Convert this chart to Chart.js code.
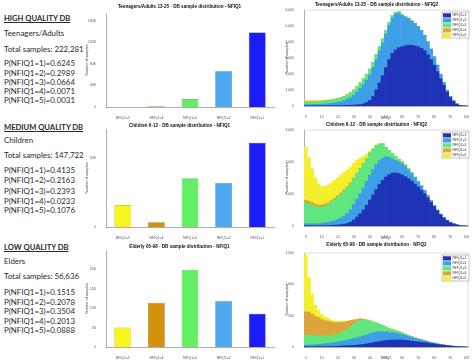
<!DOCTYPE html>
<html>
<head>
<meta charset="utf-8">
<script src="https://cdn.jsdelivr.net/npm/chart.js@4.4.0/dist/chart.umd.min.js"></script>
<style>
body { margin: 0; background: #fff; width: 474px; height: 361px; overflow: hidden; position: relative; font-family: Lato, "Open Sans", sans-serif; color: #2a2a2a; }
canvas { position: absolute; }
.t { position: absolute; left: 4px; font-size: 7.9px; line-height: 10px; white-space: nowrap; }
.h { font-weight: bold; text-decoration: underline; font-size: 7.6px; }
</style>
</head>
<body>
<div id="panel"></div>
<canvas id="bar1" width="200" height="120" style="left:85px;top:0px"></canvas>
<canvas id="bar2" width="200" height="120" style="left:85px;top:120px"></canvas>
<canvas id="bar3" width="200" height="120" style="left:85px;top:240px"></canvas>
<canvas id="hist1" width="189" height="120" style="left:285px;top:0px"></canvas>
<canvas id="hist2" width="189" height="120" style="left:285px;top:120px"></canvas>
<canvas id="hist3" width="189" height="120" style="left:285px;top:240px"></canvas>
<script>
// text panels
const dbNames = ["HIGH QUALITY DB", "MEDIUM QUALITY DB", "LOW QUALITY DB"]
const groups = ["Teenagers/Adults", "Children", "Elders"]
const totals = ["222,281", "147,722", "56,636"]
const teenProbs = ["0.6245", "0.2989", "0.0664", "0.0071", "0.0031"]
const childProbs = ["0.4135", "0.2163", "0.2393", "0.0233", "0.1076"]
const elderProbs = ["0.1515", "0.2078", "0.3504", "0.2013", "0.0888"]

// NFIQ1 bar charts
const barCategories = ["NFIQ1=5", "NFIQ1=4", "NFIQ1=3", "NFIQ1=2", "NFIQ1=1"]
const teenBars = [689, 1578, 14759, 66440, 138814]
const childBars = [15895, 3442, 35350, 31952, 61083]
const elderBars = [5029, 11401, 19845, 11769, 8580]
const teenBarTicks = [0, 40000, 80000, 120000, 160000]
const childBarTicks = [0, 50000]
const elderBarTicks = [0, 5000, 10000, 15000, 20000]

// NFIQ2 histograms (stacked by NFIQ1 class)
const nfiq2Bins = [0,2,4,6,8,10,12,14,16,18,20,22,24,26,28,30,32,34,36,38,40,42,44,46,48,50,52,54,56,58,60,62,64,66,68,70,72,74,76,78,80,82,84,86,88,90,92,94,96,98,100]
const legendLabels = ["NFIQ1=1", "NFIQ1=2", "NFIQ1=3", "NFIQ1=4", "NFIQ1=5"]

const teenQ1 = [10,10,10,10,12,12,14,16,18,20,24,28,32,38,45,55,70,90,130,220,350,600,1000,1450,1900,2400,2900,3300,3500,3650,3700,3750,3800,3800,3750,3700,3600,3450,3200,2900,2550,2150,1700,1300,870,530,290,115,38,10,0]
const teenQ2 = [80,80,85,90,95,100,110,125,145,170,200,240,300,380,480,620,800,1000,1200,1400,1600,1800,1900,2000,2050,2100,2150,2200,2250,2150,1950,1800,1650,1500,1400,1250,1100,950,800,650,520,400,280,180,110,60,30,12,4,1,0]
const teenQ3 = [150,150,155,160,165,175,185,195,205,215,230,245,260,280,300,320,340,350,360,360,350,330,300,270,240,200,170,140,110,90,70,55,45,35,28,22,16,12,9,6,4,3,2,1,1,0,0,0,0,0,0]
const teenQ4 = [30,30,30,28,26,25,22,20,18,16,14,12,10,8,6,5,4,3,3,2,2,2,1,1,1,1,0,0,0,0,0,0,0,0,0,0,0,0,0,0,0,0,0,0,0,0,0,0,0,0,0]
const teenQ5 = [80,70,60,55,50,45,40,35,30,26,22,18,15,12,10,8,6,5,4,3,3,2,2,1,1,1,1,0,0,0,0,0,0,0,0,0,0,0,0,0,0,0,0,0,0,0,0,0,0,0,0]

const childQ1 = [10,10,10,10,10,12,14,16,20,25,30,40,55,80,120,190,280,380,500,650,810,970,1140,1300,1430,1530,1600,1650,1660,1640,1590,1540,1470,1400,1310,1220,1120,1010,880,740,600,470,350,250,170,110,65,35,15,5,0]
const childQ2 = [60,60,60,60,65,70,80,95,115,140,170,210,260,320,390,480,560,630,690,740,780,790,780,740,690,630,540,450,390,360,350,320,280,240,200,160,130,100,75,55,40,28,18,12,7,4,2,1,0,0,0]
const childQ3 = [650,620,580,540,510,500,520,550,600,650,700,740,780,800,810,810,800,780,750,720,690,640,590,520,450,300,220,160,120,90,70,50,35,25,18,12,8,5,3,2,1,1,0,0,0,0,0,0,0,0,0]
const childQ4 = [90,90,85,80,75,70,65,60,55,50,45,40,35,30,25,20,15,12,10,8,5,4,3,2,2,1,1,0,0,0,0,0,0,0,0,0,0,0,0,0,0,0,0,0,0,0,0,0,0,0,0]
const childQ5 = [1650,1350,1050,820,660,580,560,560,560,560,560,560,550,530,500,460,400,320,230,130,60,30,15,8,5,3,2,1,1,0,0,0,0,0,0,0,0,0,0,0,0,0,0,0,0,0,0,0,0,0,0]

const elderQ1 = [5,5,5,5,6,6,7,8,9,10,12,14,16,19,22,26,30,36,42,50,58,68,78,88,96,104,108,110,112,112,110,106,100,94,88,82,76,70,62,55,48,40,33,27,21,16,11,7,4,2,0]
const elderQ2 = [25,25,28,30,35,40,45,50,55,60,68,75,82,90,100,110,115,125,135,145,155,160,160,155,150,140,130,120,110,100,90,80,70,60,50,42,35,28,22,17,13,10,7,5,3,2,1,0,0,0,0]
const elderQ3 = [160,160,150,145,140,130,125,120,115,120,125,135,150,175,200,225,250,265,250,230,200,170,145,120,95,75,60,50,40,32,25,20,15,11,8,6,4,3,2,1,1,0,0,0,0,0,0,0,0,0,0]
const elderQ4 = [370,370,340,310,290,260,245,235,220,200,185,170,150,125,100,70,45,25,15,8,4,2,1,1,0,0,0,0,0,0,0,0,0,0,0,0,0,0,0,0,0,0,0,0,0,0,0,0,0,0,0]
const elderQ5 = [910,550,320,180,110,80,60,45,35,25,20,15,10,7,5,3,2,1,1,0,0,0,0,0,0,0,0,0,0,0,0,0,0,0,0,0,0,0,0,0,0,0,0,0,0,0,0,0,0,0,0]
const teenHistTicks = [0, 1000, 2000, 3000, 4000, 5000, 6000]
const childHistTicks = [0, 1000, 2000, 3000]
const elderHistTicks = [0, 500, 1000, 1500]

const barColors = ["#f6f51e", "#d4920c", "#63ef63", "#4ea9ef", "#1c1cf6"]
const barBorders = ["#b8b800", "#9a6800", "#3fae3f", "#3480c0", "#10109c"]
const histColors = ["#1f33b6", "#3e9ee6", "#5fe67e", "#dba53c", "#f2f02c"]

// text panels, lines placed by centre y
const rowTops = [[18, 33, 49, 63, 73, 82, 91, 100], [127, 140, 155, 170, 180, 191, 201, 210], [247, 261, 276, 292, 302, 311, 321, 330]]
const allProbs = [teenProbs, childProbs, elderProbs]
const panel = document.getElementById("panel")
rowTops.forEach((ys, r) => {
  const lines = [dbNames[r], groups[r], "Total samples: " + totals[r]]
  allProbs[r].forEach((p, i) => lines.push("P(NFIQ1=" + (i + 1) + ")=" + p))
  lines.forEach((txt, i) => {
    const d = document.createElement("div")
    d.className = i === 0 ? "t h" : "t"
    d.style.top = (ys[i] - 5) + "px"
    d.textContent = txt
    panel.appendChild(d)
  })
})

Chart.defaults.font.family = "'Liberation Sans', Arial, sans-serif"
Chart.defaults.animation = false

const kFmt = v => v === 0 ? "0" : (v / 1000) + "K"

function barChart(id, title, values, ticks, yMax, padTop, padBottom) {
  new Chart(document.getElementById(id), {
    type: "bar",
    data: {
      labels: barCategories,
      datasets: [{
        data: values,
        backgroundColor: barColors,
        borderColor: barBorders,
        borderWidth: 0.6,
        barPercentage: 0.5,
        categoryPercentage: 1
      }]
    },
    options: {
      responsive: false,
      layout: { padding: { left: 0, right: 11, top: 0, bottom: 0 } },
      plugins: {
        legend: { display: false },
        tooltip: { enabled: false },
        title: { display: true, text: title, color: "#111", font: { size: 4.6, weight: "bold", lineHeight: 1 }, padding: { top: padTop, bottom: padBottom } }
      },
      scales: {
        x: {
          grid: { display: false },
          border: { color: "#777", width: 0.6 },
          ticks: { color: "#555", font: { size: 3.4 }, padding: 1, maxRotation: 0 },
          afterFit: s => { s.height = 13 }
        },
        y: {
          min: 0, max: yMax,
          grid: { display: false },
          border: { color: "#777", width: 0.6 },
          ticks: { color: "#555", font: { size: 3.4 }, padding: 2, callback: kFmt },
          afterBuildTicks: s => { s.ticks = ticks.map(v => ({ value: v })) },
          title: { display: true, text: "Number of samples", color: "#444", font: { size: 3.6 }, padding: 0 },
          afterFit: s => { s.width = 21 }
        }
      }
    }
  })
}

// small boxed legend in the top-right corner of the plot area
const boxLegend = {
  id: "boxLegend",
  afterDraw(chart) {
    const { ctx, chartArea } = chart
    const sets = chart.data.datasets
    const rowH = 5, w = 27
    const x0 = chartArea.right - w + 1, y0 = chartArea.top + 2
    ctx.save()
    ctx.fillStyle = "#fff"
    ctx.fillRect(x0, y0, w, rowH * sets.length + 1)
    ctx.strokeStyle = "#888"
    ctx.lineWidth = 0.5
    ctx.strokeRect(x0, y0, w, rowH * sets.length + 1)
    ctx.font = "3.4px 'Liberation Sans', Arial"
    ctx.textBaseline = "middle"
    sets.forEach((d, i) => {
      const y = y0 + 1 + i * rowH
      ctx.fillStyle = d.backgroundColor
      ctx.fillRect(x0 + 1, y + 0.3, 8, 4.2)
      ctx.fillStyle = "#333"
      ctx.fillText(d.label, x0 + 10.5, y + 2.5)
    })
    ctx.restore()
  }
}

const frame = {
  id: "frame",
  afterDraw(chart) {
    const { ctx, chartArea: a } = chart
    ctx.save()
    ctx.strokeStyle = "#bbb"
    ctx.lineWidth = 0.5
    ctx.beginPath()
    ctx.moveTo(a.left, a.top); ctx.lineTo(a.right, a.top); ctx.lineTo(a.right, a.bottom)
    ctx.stroke()
    ctx.restore()
  }
}

function histChart(id, title, series, ticks, yMax, padTop, padBottom, xHeight) {
  new Chart(document.getElementById(id), {
    type: "bar",
    data: {
      labels: nfiq2Bins,
      datasets: series.map((s, i) => ({
        label: legendLabels[i],
        data: s,
        backgroundColor: histColors[i],
        borderWidth: 0,
        barPercentage: 1,
        categoryPercentage: 1
      }))
    },
    options: {
      responsive: false,
      layout: { padding: { left: 0, right: 6, top: 0, bottom: 0 } },
      plugins: {
        legend: { display: false },
        tooltip: { enabled: false },
        title: { display: true, text: title, color: "#111", font: { size: 4.6, weight: "bold", lineHeight: 1 }, padding: { top: padTop, bottom: padBottom } }
      },
      scales: {
        x: {
          stacked: true,
          grid: { display: false },
          border: { color: "#777", width: 0.6 },
          ticks: {
            color: "#555", font: { size: 3.4 }, padding: 1, maxRotation: 0, autoSkip: false,
            callback(v) { const b = Number(this.getLabelForValue(v)); return b % 10 === 0 ? String(b) : null }
          },
          title: { display: true, text: "NFIQ2", color: "#444", font: { size: 3.6 }, padding: 0 },
          afterFit: s => { s.height = xHeight }
        },
        y: {
          stacked: true,
          min: 0, max: yMax,
          grid: { display: false },
          border: { color: "#777", width: 0.6 },
          ticks: { color: "#555", font: { size: 3.4 }, padding: 2 },
          afterBuildTicks: s => { s.ticks = ticks.map(v => ({ value: v })) },
          title: { display: true, text: "Number of samples", color: "#444", font: { size: 3.6 }, padding: 0 },
          afterFit: s => { s.width = 19 }
        }
      }
    },
    plugins: [frame, boxLegend]
  })
}

barChart("bar1", "Teenagers/Adults 13-25 - DB sample distribution - NFIQ1", teenBars, teenBarTicks, 175000, 4.4, 4)
barChart("bar2", "Children 6-12 - DB sample distribution - NFIQ1", childBars, childBarTicks, 71000, 3.4, 1)
barChart("bar3", "Elderly 65-98 - DB sample distribution - NFIQ1", elderBars, elderBarTicks, 25000, 4.4, 1)

histChart("hist1", "Teenagers/Adults 13-25 - DB sample distribution - NFIQ2", [teenQ1, teenQ2, teenQ3, teenQ4, teenQ5], teenHistTicks, 6000, 2.7, 2.7, 14)
histChart("hist2", "Children 6-12 - DB sample distribution - NFIQ2", [childQ1, childQ2, childQ3, childQ4, childQ5], childHistTicks, 3000, 2.7, 2.7, 14)
histChart("hist3", "Elderly 65-98 - DB sample distribution - NFIQ2", [elderQ1, elderQ2, elderQ3, elderQ4, elderQ5], elderHistTicks, 1500, 2.7, 5.7, 13)
</script>
</body>
</html>
